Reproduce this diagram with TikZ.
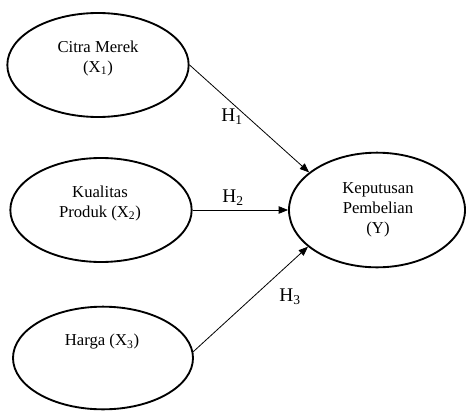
\documentclass[tikz,border=0pt]{standalone}
\usepackage{fontspec}
\setmainfont{Liberation Serif}
\usetikzlibrary{arrows.meta,shapes.geometric}
\tikzset{
  var/.style={draw, ellipse, line width=1.4pt, inner sep=0pt},
  vartext/.style={align=center, font=\fontsize{12.5}{15}\selectfont},
  hyp/.style={font=\fontsize{14.5}{16}\selectfont},
}
\begin{document}
\begin{tikzpicture}[x=0.75pt,y=-0.75pt]
      \useasboundingbox (0,0) rectangle (474,414);
      \node[var, minimum width=136pt, minimum height=78pt] (x1) at (98,65) {};
      \node[var, minimum width=136pt, minimum height=78pt] (x2) at (101,210) {};
      \node[var, minimum width=135pt, minimum height=77pt] (x3) at (103,358) {};
      \node[var, minimum width=132pt, minimum height=86pt] (y) at (377,210) {};
      \node[vartext] (t1) at (98,58) {Citra Merek\\(X\textsubscript{1})};
      \node[vartext] (t2) at (100,203) {Kualitas\\Produk (X\textsubscript{2})};
      \node[vartext] (t3) at (102,342) {Harga (X\textsubscript{3})};
      \node[vartext] (ty) at (378,210) {Keputusan\\Pembelian\\(Y)};
      \node[hyp] (h1) at (232,117) {H\textsubscript{1}};
      \node[hyp] (h2) at (233,198) {H\textsubscript{2}};
      \node[hyp] (h3) at (290,297) {H\textsubscript{3}};
      \begin{scope}[line width=0.6pt, -{Triangle[length=7pt,width=5.5pt]}]
        \draw (x1.east) to (y.151);
        \draw (x2.east) to (y.west);
        \draw (x3.4) to (y.208);
      \end{scope}
    \end{tikzpicture}
\end{document}
